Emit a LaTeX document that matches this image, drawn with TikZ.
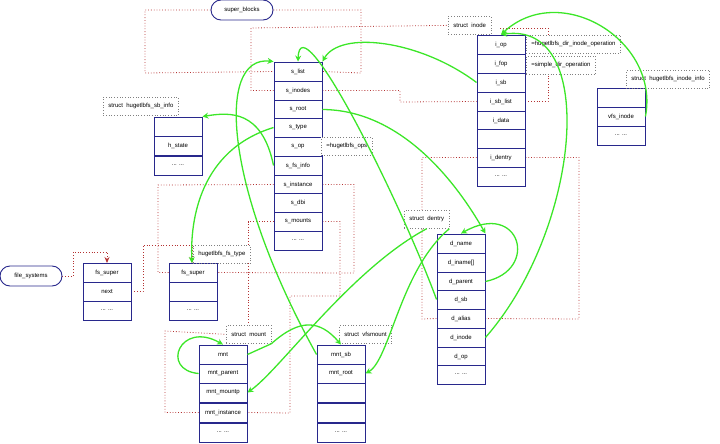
\documentclass[tikz,border=0pt]{standalone}
\usepackage{fontspec}
\setmainfont{Liberation Sans}
\usetikzlibrary{arrows.meta,backgrounds}
\definecolor{bx}{RGB}{40,40,140}
\definecolor{gr}{RGB}{60,230,40}
\definecolor{rd}{RGB}{180,50,50}
\tikzset{
 cell/.style={draw=bx,line width=0.9pt,fill=white,minimum width=48pt,minimum height=19pt,inner sep=0pt,font=\fontsize{6}{7}\selectfont},
 lab/.style={draw=gray,dotted,line width=0.7pt,inner xsep=5pt,inner ysep=2pt,minimum height=18pt,font=\fontsize{6}{7}\selectfont,fill=white},
 pill/.style={draw=bx,line width=0.9pt,fill=white,rounded corners=10pt,minimum height=20pt,minimum width=62pt,font=\fontsize{6}{7}\selectfont},
 rl/.style={draw=rd,dotted,line width=0.8pt},
 gl/.style={draw=gr,line width=1.3pt,-{Stealth[length=6pt,width=6pt]}},
}
\newcommand\cellat[4]{\node[cell] (#1) at (#2+24,#3+9.5) {#4};}
\begin{document}
\begin{tikzpicture}[x=1pt,y=-1pt]
\useasboundingbox (0,0) rectangle (720,444);
\cellat{slist}{274}{62}{s\_list}
\cellat{sinodes}{274}{81}{s\_inodes}
\cellat{sroot}{274}{100}{s\_root}
\cellat{stype}{274}{118}{s\_type}
\cellat{sop}{274}{137}{s\_op}
\cellat{sfs}{274}{156}{s\_fs\_info}
\cellat{sinst}{274}{175}{s\_instance}
\cellat{sdbi}{274}{193}{s\_dbi}
\cellat{smnt}{274}{212}{s\_mounts}
\cellat{sdots}{274}{231}{... ...}
\cellat{iop}{477}{35}{i\_op}
\cellat{ifop}{477}{54}{i\_fop}
\cellat{isb}{477}{73}{i\_sb}
\cellat{isbl}{477}{92}{i\_sb\_list}
\cellat{idata}{477}{111}{i\_data}
\cellat{iblank}{477}{129}{}
\cellat{iden}{477}{148}{i\_dentry}
\cellat{idots}{477}{167}{... ...}
\cellat{hb}{154}{117}{}
\cellat{hstate}{154}{136}{h\_state}
\cellat{hdots}{154}{156}{... ...}
\cellat{vb}{597}{88}{}
\cellat{vfsin}{597}{107}{vfs\_inode}
\cellat{vdots}{597}{126}{... ...}
\cellat{dname}{437}{234}{d\_name}
\cellat{diname}{437}{253}{d\_iname[]}
\cellat{dparent}{437}{272}{d\_parent}
\cellat{dsb}{437}{290}{d\_sb}
\cellat{dalias}{437}{309}{d\_alias}
\cellat{dinode}{437}{328}{d\_inode}
\cellat{dop}{437}{347}{d\_op}
\cellat{ddots}{437}{365}{... ...}
\cellat{fsa}{83}{263}{fs\_super}
\cellat{next}{83}{282}{next}
\cellat{fsadots}{83}{301}{... ...}
\cellat{fsb}{169}{263}{fs\_super}
\cellat{fsbb}{169}{282}{}
\cellat{fsbdots}{169}{301}{... ...}
\cellat{mnt}{199}{345}{mnt}
\cellat{mpar}{199}{364}{mnt\_parent}
\cellat{mmp}{199}{383}{mnt\_mountp}
\cellat{minst}{199}{403}{mnt\_instance}
\cellat{mdots}{199}{423}{... ...}
\cellat{vsb}{317}{345}{mnt\_sb}
\cellat{vroot}{317}{364}{mnt\_root}
\cellat{vb1}{317}{383}{}
\cellat{vb2}{317}{403}{}
\cellat{vdots2}{317}{423}{... ...}
\node[pill] (sbs) at (242,10) {super\_blocks};
\node[pill] (fss) at (31,276) {file\_systems};
\node[lab,anchor=north west] (linode) at (448,16) {struct\ \ inode};
\node[lab,anchor=north west] (liop) at (526,35) {=hugetlbfs\_dir\_inode\_operation};
\node[lab,anchor=north west] (lifop) at (526,56) {=simple\_dir\_operation};
\node[lab,anchor=north west] (lsop) at (321,137) {=hugetlbfs\_ops};
\node[lab,anchor=north west] (lsbi) at (103,97) {struct\ \ hugetlbfs\_sb\_info};
\node[lab,anchor=north west] (lii) at (626,70) {struct\ \ hugetlbfs\_inode\_info};
\node[lab,anchor=north west] (lden) at (404,210) {struct\ \ dentry};
\node[lab,anchor=north west] (lfst) at (193,245) {hugetlbfs\_fs\_type};
\node[lab,anchor=north west] (lmnt) at (226,325) {struct\ \ mount};
\node[lab,anchor=north west] (lvfs) at (339,325) {struct\ \ vfsmount};
\begin{scope}[on background layer]
\draw[rl] (sbs.west) -| (145,73) -- (slist.west);
\draw[rl] (sbs.east) -| (361,73) -- (slist.east);
\draw[rl] (sinodes.west) -| (251,28) -- (linode.west);
\draw[rl] (sinodes.east) -| (400,102) -- (isbl.west);
\draw[rl] (isbl.east) -| (548,28) -- (499,28);
\draw[rl] (iden.west) -| (422,319) -- (dalias.west);
\draw[rl] (iden.east) -| (579,319) -- (dalias.east);
\draw[rl] (sinst.east) -| (354,273) -- (fsb.east);
\draw[rl] (sinst.west) -- (158,185) |- (fsb.west);
\draw[rl] (smnt.east) -| (340,296) -| (290,413) -- (minst.east);
\draw[rl] (smnt.west) -| (248,325);
\draw[rl] (minst.west) -| (165,331) -- (lmnt.west);
\draw[rl,-{Stealth[length=6pt,width=5pt]}] (fss.east) -| (73,252) -| (107,263);
\draw[rl,-{Stealth[length=6pt,width=5pt]}] (next.east) -| (143,245) -| (192,263);
\end{scope}
\draw[gl] (sfs.west) .. controls (262,110) and (230,112) .. (hb.north east);
\draw[gl] (stype.west) .. controls (200,150) and (190,220) .. (192,263);
\draw[gl] (sroot.east) .. controls (400,110) and (455,180) .. (dname.north east);
\draw[gl] (isb.west) .. controls (420,40) and (340,30) .. (slist.north east);
\draw[gl] (dsb.west) .. controls (400,200) and (300,0) .. (slist.north);
\draw[gl] (vsb.west) .. controls (225,190) and (215,55) .. (slist.north west);
\draw[gl] (dinode.east) .. controls (580,230) and (600,20) .. (iop.north);
\draw[gl] (vfsin.east) .. controls (660,40) and (560,-20) .. (iop.north);
\draw[gl] (dparent.east) .. controls (540,270) and (520,200) .. (dname.north);
\draw[gl] (mpar.west) .. controls (160,370) and (180,320) .. (mnt.north);
\draw[gl] (mnt.east) -- (lmnt.south east) .. controls (300,318) and (320,320) .. (vsb.north);
\draw[gl] (lden.south) .. controls (350,270) and (280,370) .. (mmp.east);
\draw[gl] (lden.south east) .. controls (400,270) and (390,360) .. (vroot.east);
\end{tikzpicture}
\end{document}
